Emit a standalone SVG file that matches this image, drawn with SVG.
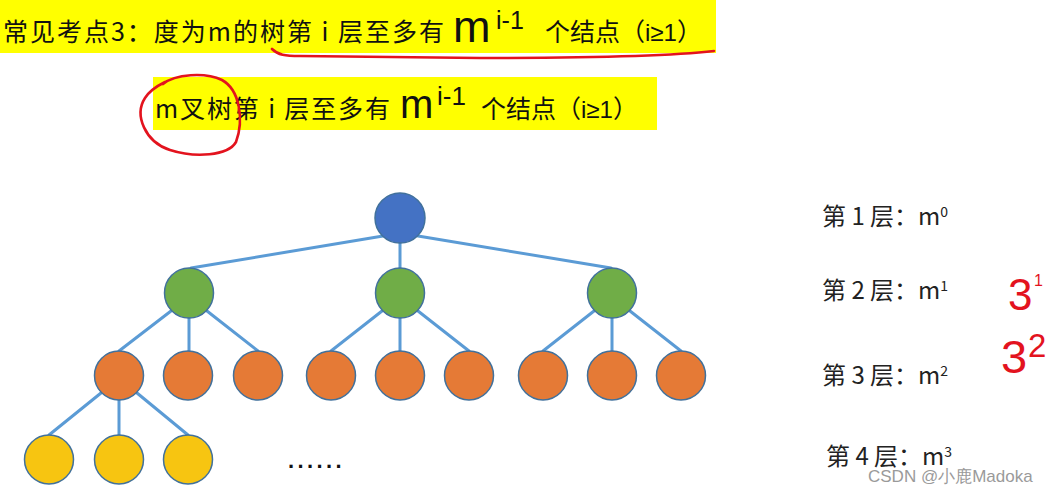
<svg xmlns="http://www.w3.org/2000/svg" width="1046" height="494" viewBox="0 0 1046 494">
<style>
.cjk{font-family:"Noto Sans CJK SC","Noto Sans",sans-serif;fill:#111}
.lat{font-family:"Liberation Sans",Arial,sans-serif;fill:#111}
.ls{font-family:"Liberation Sans",Arial,sans-serif}
.lbl{font-family:"Noto Sans CJK SC","Noto Sans",sans-serif;font-size:24px;fill:#222}
.edge{stroke:#5B9BD5;stroke-width:3;fill:none;stroke-linecap:round}
.n{stroke:#41719C;stroke-width:1.5}
.l1{fill:#4472C4}.l2{fill:#70AD47}.l3{fill:#E57A36}.l4{fill:#F7C511}
.red{stroke:#E3131E;stroke-width:2.6;fill:none;stroke-linecap:round;stroke-linejoin:round}
.redt{font-family:"Liberation Sans",Arial,sans-serif;fill:#E3131E}
</style>
<rect width="1046" height="494" fill="#fff"/>
<g id="title1">
<rect x="0" y="0" width="716" height="53" fill="#FFFF00"/>
<text class="cjk" x="3" y="41" font-size="25" textLength="441" lengthAdjust="spacing">常见考点3：度为m的树第 i 层至多有</text>
<text class="lat" x="453" y="42" font-size="45">m</text>
<text class="lat" x="496" y="29" font-size="25">i-1</text>
<text class="cjk" x="545" y="41" font-size="25">个结点（<tspan class="ls" font-size="24">i≥1</tspan>）</text>
</g>
<g id="title2">
<rect x="153" y="77" width="504" height="53" fill="#FFFF00"/>
<text class="cjk" x="155" y="118" font-size="25" textLength="235" lengthAdjust="spacing">m叉树第 i 层至多有</text>
<text class="lat" x="400" y="118" font-size="40">m</text>
<text class="lat" x="437" y="105" font-size="26">i-1</text>
<text class="cjk" x="481" y="118" font-size="25">个结点（<tspan class="ls" font-size="24">i≥1</tspan>）</text>
</g>
<g id="connectors">
<line class="edge" x1="383" y1="236" x2="191" y2="268"/>
<line class="edge" x1="400" y1="243" x2="400" y2="268"/>
<line class="edge" x1="418" y1="236" x2="611" y2="268"/>
<line class="edge" x1="171" y1="311" x2="119" y2="351"/>
<line class="edge" x1="189" y1="318" x2="189" y2="351"/>
<line class="edge" x1="207" y1="311" x2="258" y2="351"/>
<line class="edge" x1="382" y1="311" x2="331" y2="351"/>
<line class="edge" x1="400" y1="318" x2="400" y2="351"/>
<line class="edge" x1="418" y1="311" x2="469" y2="351"/>
<line class="edge" x1="594" y1="311" x2="543" y2="351"/>
<line class="edge" x1="612" y1="318" x2="612" y2="351"/>
<line class="edge" x1="630" y1="311" x2="681" y2="351"/>
<line class="edge" x1="101" y1="393" x2="49" y2="435"/>
<line class="edge" x1="119" y1="400" x2="119" y2="435"/>
<line class="edge" x1="137" y1="393" x2="188" y2="435"/>
</g>
<g id="root"><ellipse class="n l1" cx="400" cy="218" rx="25" ry="25"/></g>
<g id="n2a"><ellipse class="n l2" cx="189" cy="293" rx="24.5" ry="25"/></g>
<g id="n2b"><ellipse class="n l2" cx="400" cy="293" rx="24.5" ry="25"/></g>
<g id="n2c"><ellipse class="n l2" cx="612" cy="293" rx="24.5" ry="25"/></g>
<g id="n3a"><ellipse class="n l3" cx="119" cy="375.5" rx="24.5" ry="24.5"/></g>
<g id="n3b"><ellipse class="n l3" cx="188" cy="375.5" rx="24.5" ry="24.5"/></g>
<g id="n3c"><ellipse class="n l3" cx="258" cy="375.5" rx="24.5" ry="24.5"/></g>
<g id="n3d"><ellipse class="n l3" cx="331" cy="375.5" rx="24.5" ry="24.5"/></g>
<g id="n3e"><ellipse class="n l3" cx="400" cy="375.5" rx="24.5" ry="24.5"/></g>
<g id="n3f"><ellipse class="n l3" cx="469" cy="375.5" rx="24.5" ry="24.5"/></g>
<g id="n3g"><ellipse class="n l3" cx="543" cy="375.5" rx="24.5" ry="24.5"/></g>
<g id="n3h"><ellipse class="n l3" cx="612" cy="375.5" rx="24.5" ry="24.5"/></g>
<g id="n3i"><ellipse class="n l3" cx="681" cy="375.5" rx="24.5" ry="24.5"/></g>
<g id="n4a"><ellipse class="n l4" cx="49" cy="459.5" rx="24.5" ry="24.5"/></g>
<g id="n4b"><ellipse class="n l4" cx="119" cy="459.5" rx="24.5" ry="24.5"/></g>
<g id="n4c"><ellipse class="n l4" cx="188" cy="459.5" rx="24.5" ry="24.5"/></g>
<g id="ellipsis"><text class="lat" x="288" y="468" font-size="22" font-weight="bold" letter-spacing="3.4">......</text></g>
<g id="levels">
<text class="lbl" x="822" y="225" xml:space="preserve">第 1 层：m<tspan font-size="14" dy="-8">0</tspan></text>
<text class="lbl" x="822" y="299" xml:space="preserve">第 2 层：m<tspan font-size="14" dy="-8">1</tspan></text>
<text class="lbl" x="822" y="384" xml:space="preserve">第 3 层：m<tspan font-size="14" dy="-8">2</tspan></text>
<text class="lbl" x="826" y="465" xml:space="preserve">第 4 层：m<tspan font-size="14" dy="-8">3</tspan></text>
</g>
<g id="annotations">
<path class="red" d="M272,49 C278,55 285,56 300,56 L480,58 C600,58 680,55 714,51"/>
<path class="red" d="M163,84 C175,74 205,72 222,80 C240,90 244,120 236,142 C228,156 195,158 170,150 C145,142 134,115 145,98 C150,90 157,86 165,82"/>
<text class="redt" x="1008" y="310" font-size="44">3</text>
<text class="redt" x="1034" y="286" font-size="16">1</text>
<text class="redt" x="1001" y="373" font-size="47">3</text>
<text class="redt" x="1028" y="357" font-size="33">2</text>
</g>
<g id="watermark"><text x="868" y="482" font-family="Liberation Sans,Arial,sans-serif" font-size="17" fill="#9a9a9a" stroke="#fff" stroke-width="0.6" paint-order="stroke">CSDN @小鹿Madoka</text></g>
</svg>
